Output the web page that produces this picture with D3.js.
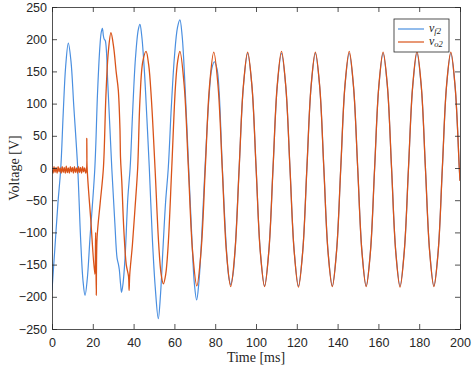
<!DOCTYPE html>
<html>
<head>
<meta charset="utf-8">
<script src="https://cdn.jsdelivr.net/npm/d3@7"></script>
<style>
  body { margin: 0; background: #fff; }
  svg { display: block; }
</style>
</head>
<body>
<svg id="chart"></svg>
<script>
// tick labels
const xTicks = [0, 20, 40, 60, 80, 100, 120, 140, 160, 180, 200];
const yTicks = [-250, -200, -150, -100, -50, 0, 50, 100, 150, 200, 250];
const seriesNames = ["f2", "o2"];

// v_f2 : [time ms, voltage V]
const vf2 = [[0,-190],[1.4,-125],[2.9,-55],[4.3,0],[5.5,85],[6.7,158],[8.0,194],[9.3,166],[10.7,95],[12.6,0],
  [14.0,-108],[15.2,-175],[16.2,-198],[17.3,-172],[18.6,-110],[21.0,0],[22.3,115],[23.4,185],[24.1,210],[24.7,217],
  [25.2,205],[25.6,200],[26.1,198],[27.4,128],[29.3,0],[30.8,-85],[31.9,-140],[32.6,-150],[33.0,-158],[33.6,-180],
  [34.1,-193],[34.8,-180],[35.8,-140],[37.2,-45],[38.3,0],[39.5,85],[40.9,170],[42.3,215],[43.1,223],[44.0,205],
  [45.3,150],[46.5,78],[47.7,0],[49.2,-110],[50.6,-185],[52.1,-234],[53.2,-196],[54.4,-125],[55.7,-52],[57.0,0],
  [58.5,95],[60.0,172],[61.5,218],[62.7,230],[63.8,205],[65.2,128],[67.0,0],[68.6,-112],[69.8,-180],[70.9,-205],
  [72.0,-178],[73.3,-112],[75.0,0],[77.0,112],[78.3,154],[79.6,165],[80.9,154],[81.9,120],[83.5,0],[85.5,-126],
  [86.6,-168],[87.6,-181],[88.7,-166],[89.8,-125],[91.75,0],[93.8,126],[95.9,178],[98.0,127],[100.05,0],[102.1,-129],
  [104.2,-183],[106.3,-128],[108.35,0],[110.4,126],[112.5,178],[114.6,126],[116.65,0],[118.7,-128],[120.8,-183],[122.9,-129],
  [124.95,0],[127.0,126],[129.1,178],[131.2,127],[133.25,0],[135.3,-129],[137.4,-183],[139.5,-128],[141.55,0],[143.6,127],
  [145.7,178],[147.8,126],[149.85,0],[151.9,-128],[154.0,-183],[156.1,-129],[158.15,0],[160.2,126],[162.3,178],[164.4,127],
  [166.45,0],[168.5,-129],[170.6,-183],[172.7,-128],[174.75,0],[176.8,126],[178.9,178],[181.0,127],[183.05,0],[185.1,-128],
  [187.2,-183],[189.3,-129],[191.35,0],[193.4,127],[195.5,178],[197.6,126],[199.65,0],[200,-19]];

// v_o2 : flat noisy start, then transient and steady sine
const vo2 = [[0,-3],[0.5,-8],[1,2],[1.5,-7],[2,1],[2.5,-8],[3,2],[3.5,-6],[4,0],[4.5,-8],[5,2],[5.5,-7],[6,1],
  [6.5,-8],[7,3],[7.5,-7],[8,0],[8.5,-8],[9,2],[9.5,-6],[10,1],[10.5,-8],[11,2],[11.5,-7],[12,0],[12.5,-8],[13,2],
  [13.5,-7],[14,1],[14.5,-8],[15,2],[15.5,-6],[16,0],[16.5,-8],[17,1],
  [17.05,46],[17.2,2],[19.0,-80],[21.0,-165],[21.4,-100],[21.7,-198],[22.1,-108],[23.6,-55],[25.2,0],[26.4,110],
  [27.6,180],[28.9,210],[30.2,188],[31.5,148],[32.5,121],[33.3,62],[33.6,15],[34.2,-20],[35.2,-95],[36.4,-150],
  [37.5,-168],[37.8,-190],[38.1,-166],[39.4,-120],[40.7,-62],[42.0,0],[43.1,105],[44.5,165],[46.1,181],[47.4,160],
  [48.7,108],[50.5,0],[52.3,-118],[53.5,-165],[54.6,-180],[55.7,-166],[56.9,-122],[58.7,0],[60.5,126],[61.6,166],
  [62.7,181],[64.8,128],[66.85,0],[68.9,-129],[71.0,-183],[73.1,-128],[75.15,0],[77.2,127],[79.3,180],[81.4,127],
  [83.45,0],[85.5,-130],[87.6,-184],[89.7,-129],[91.75,0],[93.8,127],[95.9,180],[98.0,128],[100.05,0],[102.1,-130],
  [104.2,-184],[106.3,-129],[108.35,0],[110.4,128],[112.5,181],[114.6,127],[116.65,0],[118.7,-129],[120.8,-185],[122.9,-130],
  [124.95,0],[127.0,127],[129.1,180],[131.2,128],[133.25,0],[135.3,-130],[137.4,-184],[139.5,-129],[141.55,0],[143.6,128],
  [145.7,181],[147.8,127],[149.85,0],[151.9,-129],[154.0,-184],[156.1,-130],[158.15,0],[160.2,127],[162.3,180],[164.4,128],
  [166.45,0],[168.5,-130],[170.6,-185],[172.7,-129],[174.75,0],[176.8,127],[178.9,181],[181.0,128],[183.05,0],[185.1,-129],
  [187.2,-184],[189.3,-130],[191.35,0],[193.4,128],[195.5,180],[197.6,127],[199.65,0],[200,-20]];

const width = 474, height = 370;
const margin = {top: 7, right: 14, bottom: 41, left: 52};
const axisColor = "#262626";
const color = d3.scaleOrdinal().domain(seriesNames).range(["#4a8fe0", "#d95319"]);

const svg = d3.select("#chart")
  .attr("width", width)
  .attr("height", height)
  .attr("viewBox", [0, 0, width, height]);

const x = d3.scaleLinear().domain([0, 200]).range([margin.left, width - margin.right]);
const y = d3.scaleLinear().domain([-250, 250]).range([height - margin.bottom, margin.top]);

svg.append("defs").append("clipPath").attr("id", "clip")
  .append("rect")
  .attr("x", margin.left).attr("y", margin.top)
  .attr("width", width - margin.left - margin.right)
  .attr("height", height - margin.top - margin.bottom);

const line = d3.line()
  .x(d => x(d[0]))
  .y(d => y(d[1]))
  .curve(d3.curveCatmullRom.alpha(0.5));

const plots = svg.append("g").attr("clip-path", "url(#clip)");
plots.append("path")
  .attr("d", line(vf2))
  .attr("fill", "none")
  .attr("stroke", color("f2"))
  .attr("stroke-width", 1.2);
plots.append("path")
  .attr("d", line(vo2))
  .attr("fill", "none")
  .attr("stroke", color("o2"))
  .attr("stroke-width", 1.3);

// axes, ticks pointing inward on all four sides
function styleAxis(g) {
  g.selectAll(".domain").attr("stroke", axisColor).attr("stroke-width", 0.8);
  g.selectAll(".tick line").attr("stroke", axisColor).attr("stroke-width", 0.8);
  g.selectAll(".tick text")
    .attr("fill", axisColor)
    .attr("font-family", "Liberation Sans, Arial, sans-serif")
    .attr("font-size", 12.5);
}

svg.append("g")
  .attr("transform", `translate(0,${height - margin.bottom})`)
  .call(d3.axisBottom(x).tickValues(xTicks).tickSize(-5).tickSizeOuter(0).tickPadding(9))
  .call(styleAxis);
svg.append("g")
  .attr("transform", `translate(0,${margin.top})`)
  .call(d3.axisTop(x).tickValues(xTicks).tickSize(-5).tickSizeOuter(0).tickFormat(""))
  .call(styleAxis);
svg.append("g")
  .attr("transform", `translate(${margin.left},0)`)
  .call(d3.axisLeft(y).tickValues(yTicks).tickSize(-5).tickSizeOuter(0).tickPadding(5))
  .call(styleAxis);
svg.append("g")
  .attr("transform", `translate(${width - margin.right},0)`)
  .call(d3.axisRight(y).tickValues(yTicks).tickSize(-5).tickSizeOuter(0).tickFormat(""))
  .call(styleAxis);

// axis titles
svg.append("text")
  .attr("x", (margin.left + width - margin.right) / 2)
  .attr("y", 362)
  .attr("text-anchor", "middle")
  .attr("font-family", "Liberation Serif, serif")
  .attr("font-size", 14)
  .attr("fill", axisColor)
  .text("Time [ms]");
svg.append("text")
  .attr("transform", `translate(19,${(margin.top + height - margin.bottom) / 2}) rotate(-90)`)
  .attr("text-anchor", "middle")
  .attr("font-family", "Liberation Serif, serif")
  .attr("font-size", 14)
  .attr("fill", axisColor)
  .text("Voltage [V]");

// legend
const legend = svg.append("g").attr("transform", "translate(394,19)");
legend.append("rect")
  .attr("width", 55).attr("height", 33)
  .attr("fill", "#fff")
  .attr("stroke", axisColor)
  .attr("stroke-width", 0.8);
seriesNames.forEach((s, i) => {
  const row = legend.append("g").attr("transform", `translate(0,${10 + i * 13})`);
  row.append("line")
    .attr("x1", 4).attr("x2", 30)
    .attr("stroke", color(s))
    .attr("stroke-width", 1.2);
  const t = row.append("text")
    .attr("x", 35).attr("y", 3)
    .attr("font-family", "Liberation Serif, serif")
    .attr("font-style", "italic")
    .attr("font-size", 12)
    .attr("fill", axisColor);
  t.append("tspan").text("v");
  t.append("tspan").attr("dy", 2).attr("font-size", 8.5).text(s);
});
</script>
</body>
</html>
